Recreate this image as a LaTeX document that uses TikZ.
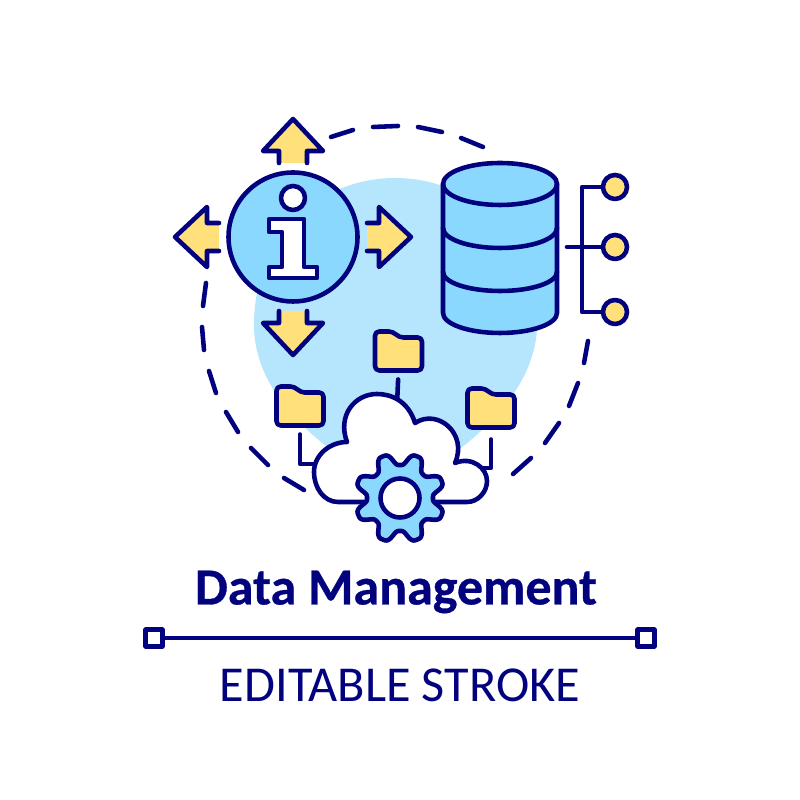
\documentclass[tikz,border=0pt]{standalone}
\usepackage{fontspec}
\setmainfont{Carlito}
\newfontfamily\headfont[FakeBold=0.6]{Carlito Bold}
\definecolor{navy}{HTML}{02027F}
\definecolor{sky}{HTML}{8AD8FE}
\definecolor{pale}{HTML}{B5E6FD}
\definecolor{butter}{HTML}{FFE07A}
\begin{document}
\begin{tikzpicture}
[draw=navy, line width=1.3pt, line cap=round, line join=round,
infocirc/.style={circle, draw=navy, fill=sky, inner sep=0pt, minimum size=1.29cm},
leaf/.style={circle, draw=navy, fill=butter, inner sep=0pt, minimum size=0.24cm},
foldbox/.style={rectangle, inner sep=0pt, outer sep=0pt, minimum width=0.47cm, minimum height=0.39cm},
foldline/.style={draw=navy, fill=butter, rounded corners=1.2pt},
handle/.style={rectangle, draw=navy, fill=white, inner sep=0pt, minimum size=0.165cm},
hole/.style={circle, draw=navy, fill=white, inner sep=0pt, minimum size=0.39cm},
dashpart/.style={draw=navy, line width=1.3pt},
title/.style={text=navy, inner sep=0pt, font=\fontsize{14.8}{16}\headfont},
subtitle/.style={text=navy, inner sep=0pt, font=\fontsize{14.3}{16}\selectfont}
]

\useasboundingbox (0,0) rectangle (8,8);

% backdrop
\fill[pale] (3.95,6.22) .. controls (4.70,6.22) and (5.37,5.65) .. (5.37,4.75)
  .. controls (5.37,4.20) and (4.90,3.60) .. (3.95,3.10)
  .. controls (3.10,3.55) and (2.54,4.10) .. (2.54,4.75)
  .. controls (2.54,5.65) and (3.20,6.22) .. (3.95,6.22) -- cycle;

\foreach \xa/\ya/\xb/\yb in {2.06/5.17/2.03/4.94, 2.02/4.73/2.04/4.50, 2.09/4.29/2.16/4.07,
  2.26/3.88/2.38/3.68, 2.51/3.52/2.68/3.35, 2.84/3.22/3.04/3.10,
  5.88/4.59/5.84/4.37, 5.78/4.17/5.69/3.94, 5.59/3.77/5.45/3.57, 5.31/3.42/5.13/3.26,
  3.31/6.63/3.53/6.70, 3.73/6.73/3.98/6.74, 4.18/6.73/4.42/6.68, 4.61/6.62/4.83/6.53} {
  \draw[dashpart] (\xa,\ya) -- (\xb,\yb);
}

% arrows round the info disc
\foreach \a in {0,90,180,270} {
  \begin{scope}[shift={(2.93,5.63)}, rotate=\a]
    \fill[butter] (-0.14,0.74) -- (-0.14,0.86) -- (-0.30,0.86) -- (0,1.18) -- (0.30,0.86) -- (0.14,0.86) -- (0.14,0.74) -- cycle;
    \draw (-0.14,0.74) -- (-0.14,0.86) -- (-0.30,0.86) -- (0,1.18) -- (0.30,0.86) -- (0.14,0.86) -- (0.14,0.74);
  \end{scope}
}

\node[infocirc] (info) at (2.93,5.63) {};
\node[hole, minimum size=0.24cm] (infodot) at (2.93,6.02) {};
\draw[fill=white] (2.69,5.81) -- (3.04,5.81) -- (3.04,5.33) -- (3.17,5.33) -- (3.17,5.22) -- (2.69,5.22)
  -- (2.69,5.33) -- (2.82,5.33) -- (2.82,5.68) -- (2.69,5.68) -- cycle;

% database
\draw[fill=sky] (4.43,6.16) -- (4.43,4.87) arc[start angle=180, end angle=360, x radius=0.57, y radius=0.20]
  -- (5.57,6.16) arc[start angle=0, end angle=180, x radius=0.57, y radius=0.21] -- cycle;
\draw (4.43,6.16) arc[start angle=180, end angle=360, x radius=0.57, y radius=0.21];
\draw (4.43,5.72) arc[start angle=180, end angle=360, x radius=0.57, y radius=0.20];
\draw (4.43,5.28) arc[start angle=180, end angle=360, x radius=0.57, y radius=0.19];

\node[leaf] (leaf1) at (6.15,6.13) {};
\node[leaf] (leaf2) at (6.15,5.53) {};
\node[leaf] (leaf3) at (6.15,4.88) {};
\coordinate (stub) at (5.67,5.53);
\coordinate (spine) at (5.82,5.53);
\draw (stub) -- (leaf2);
\draw (leaf1) -| (spine) |- (leaf3);

% folders
\foreach \n/\x/\y in {fold1/3.00/3.94, fold2/3.985/4.49, fold3/4.91/3.92} {
  \node[foldbox] (\n) at (\x,\y) {};
  \draw[foldline] (\n.south west) -- (\n.north west) -- ([xshift=0.18cm]\n.north west)
    -- ([xshift=0.24cm,yshift=-0.06cm]\n.north west) -- ([yshift=-0.06cm]\n.north east)
    -- (\n.south east) -- cycle;
}

\coordinate (cloudtop) at (3.97,3.95);
\coordinate (cloudleft) at (3.20,3.36);
\coordinate (cloudright) at (4.75,3.32);
\draw[shorten <=0.09cm] (fold2.south) -- (cloudtop);
\draw[shorten <=0.09cm] (fold1.south) |- (cloudleft);
\draw[shorten <=0.12cm] (fold3.south) |- (cloudright);

% cloud
\draw[fill=white] (4.38,2.98) -- (4.67,2.98) .. controls (4.78,2.98) and (4.87,3.08) .. (4.87,3.19)
  .. controls (4.87,3.32) and (4.72,3.44) .. (4.55,3.37)
  .. controls (4.68,3.66) and (4.38,3.92) .. (4.15,3.77)
  .. controls (4.08,4.00) and (3.90,4.06) .. (3.77,4.06)
  .. controls (3.55,4.06) and (3.37,3.85) .. (3.47,3.58)
  .. controls (3.30,3.58) and (3.14,3.45) .. (3.14,3.28)
  .. controls (3.14,3.12) and (3.24,2.98) .. (3.38,2.98) -- (3.62,2.98) -- cycle;

% gear
\draw[fill=sky] plot[domain=0:360, samples=241] ({4.00+(0.39+0.06*(1.5*cos(8*\x-180)-0.5*pow(cos(8*\x-180),3)))*cos(\x)},{3.02+(0.39+0.06*(1.5*cos(8*\x-180)-0.5*pow(cos(8*\x-180),3)))*sin(\x)}) -- cycle;
\node[hole] (gearhole) at (4.00,3.02) {};

% caption
\node[title] (head) at (3.96,2.08) {Data Management};
\node[handle] (handleL) at (1.54,1.62) {};
\node[handle] (handleR) at (6.46,1.62) {};
\draw (handleL) -- (handleR);
\node[subtitle] (sub) at (4.00,1.15) {EDITABLE STROKE};

\end{tikzpicture}
\end{document}
